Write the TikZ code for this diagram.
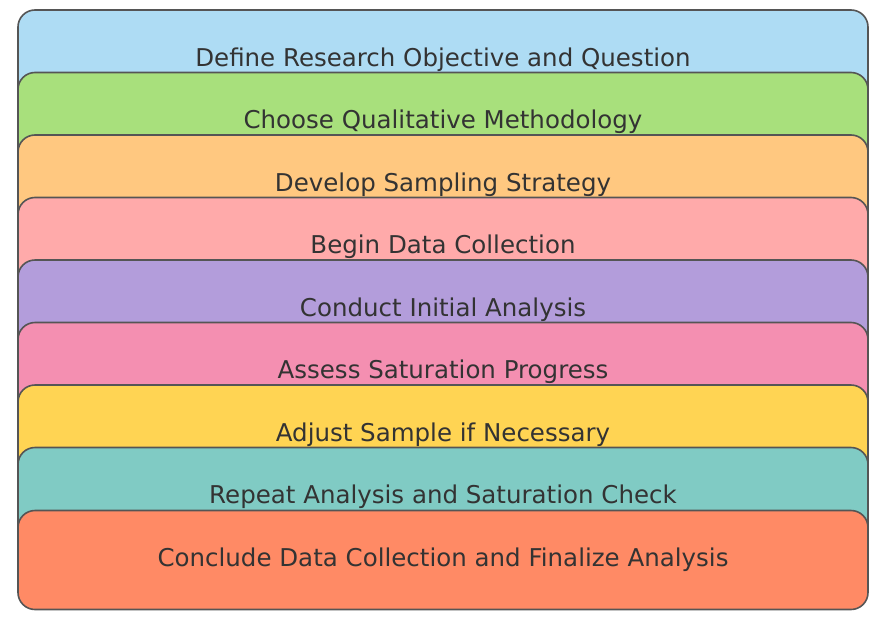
\documentclass[tikz,border=0pt]{standalone}
\usepackage{fontspec}
\setmainfont{DejaVu Sans}
\definecolor{c1}{HTML}{AEDCF4}
\definecolor{c2}{HTML}{A8E07C}
\definecolor{c3}{HTML}{FFC880}
\definecolor{c4}{HTML}{FFAAAA}
\definecolor{c5}{HTML}{B39DDB}
\definecolor{c6}{HTML}{F48FB1}
\definecolor{c7}{HTML}{FFD453}
\definecolor{c8}{HTML}{80CBC4}
\definecolor{c9}{HTML}{FF8A65}
\definecolor{edge}{HTML}{555555}
\definecolor{txt}{HTML}{333333}
\begin{document}
\begin{tikzpicture}[x=1pt,y=-1pt,
  stage/.style={draw=edge, line width=1.6pt, rounded corners=17pt, minimum width=850pt, minimum height=99pt, inner sep=0pt, text=txt, font=\fontsize{24.5}{29}\selectfont}]
\useasboundingbox (0,0) rectangle (890,618);
\node[stage, fill=c1] (s1) at (443,59.5) {Define Research Objective and Question};
\node[stage, fill=c2] (s2) at (443,122) {Choose Qualitative Methodology};
\node[stage, fill=c3] (s3) at (443,184.5) {Develop Sampling Strategy};
\node[stage, fill=c4] (s4) at (443,247) {Begin Data Collection};
\node[stage, fill=c5] (s5) at (443,309.5) {Conduct Initial Analysis};
\node[stage, fill=c6] (s6) at (443,372) {Assess Saturation Progress};
\node[stage, fill=c7] (s7) at (443,434.5) {Adjust Sample if Necessary};
\node[stage, fill=c8] (s8) at (443,497) {Repeat Analysis and Saturation Check};
\node[stage, fill=c9] (s9) at (443,560) {Conclude Data Collection and Finalize Analysis};
\end{tikzpicture}
\end{document}
